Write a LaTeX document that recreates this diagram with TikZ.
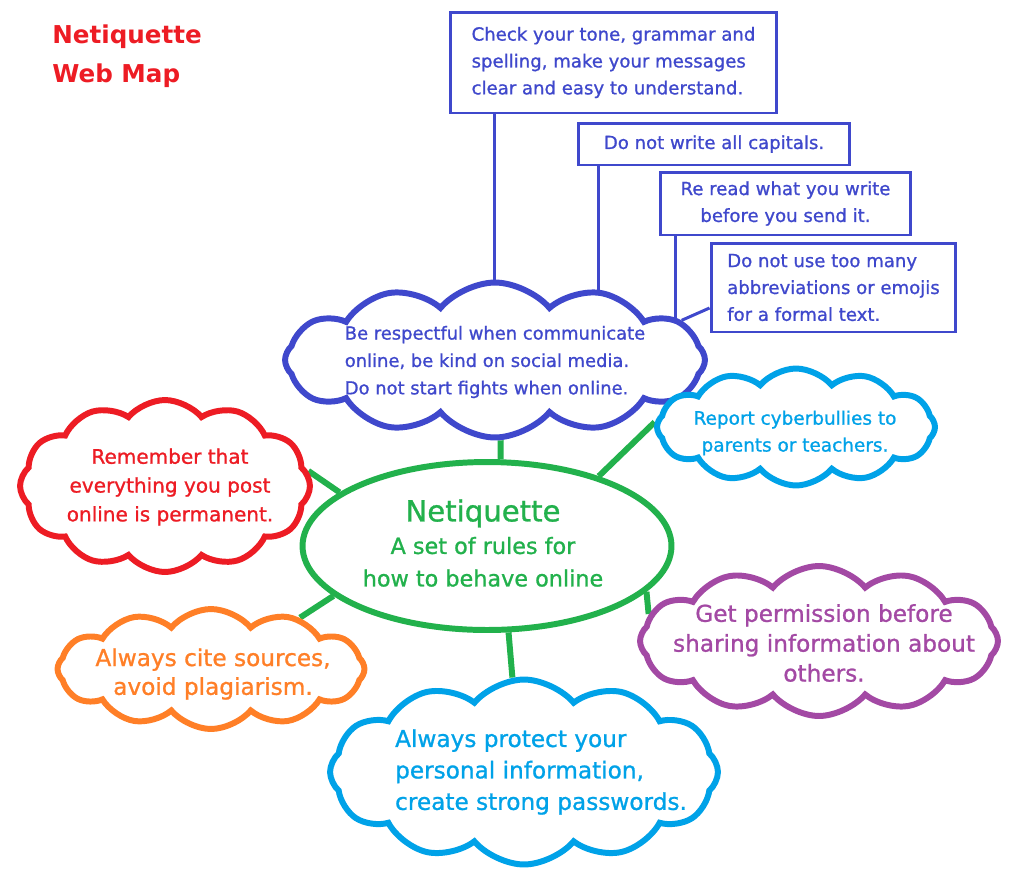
\documentclass[tikz,border=0pt]{standalone}
\usepackage{fontspec}
\setmainfont{DejaVu Sans}
\newfontfamily\handfont{DejaVu Sans}[FakeBold=1]
\usetikzlibrary{shapes.symbols,shapes.geometric,positioning,backgrounds}

\definecolor{mapred}{HTML}{ED1C24}
\definecolor{mapblue}{HTML}{3F48CC}
\definecolor{mapgreen}{HTML}{22B14C}
\definecolor{mapsky}{HTML}{00A2E8}
\definecolor{maporange}{HTML}{FF7F27}
\definecolor{mappurple}{HTML}{A349A4}

\newcommand{\hand}[2]{\handfont\fontsize{#1}{#2}\selectfont}

\tikzset{
    bubble/.style={cloud, cloud puffs=12, cloud puff arc=100, cloud ignores aspect,
        draw=#1, fill=white, line width=3.4pt, inner sep=0pt},
    words/.style={text=#1, align=center, inner sep=0pt},
    tipbox/.style={draw=mapblue, text=mapblue, fill=white, line width=1.7pt,
        align=left, inner sep=0pt, font=\hand{10.3}{15.3}},
    spoke/.style={draw=mapgreen, line width=3.4pt},
    stem/.style={draw=mapblue, line width=1.7pt},
}

\begin{document}
\begin{tikzpicture}[x=0.02cm, y=-0.02cm]
    \useasboundingbox (0,0) rectangle (1030,883);

    % Title
    \node[anchor=west, inner sep=0pt, text=mapred, align=left, font=\bfseries\fontsize{14}{22}\selectfont] (title) at (52,56) {Netiquette\\Web Map};

    % Tips in boxes
    \node[tipbox, minimum width=6.54cm, minimum height=2.02cm] (tone) at (613.5,62.5)
        {Check your tone, grammar and\\spelling, make your messages\\clear and easy to understand.};
    \node[tipbox, minimum width=5.44cm, minimum height=0.84cm] (caps) at (714,144)
        {Do not write all capitals.};
    \node[tipbox, align=center, minimum width=5.02cm, minimum height=1.26cm] (reread) at (785.5,203.5)
        {Re read what you write\\before you send it.};
    \node[tipbox, minimum width=4.9cm, minimum height=1.78cm] (abbrev) at (833.5,287.5)
        {Do not use too many\\abbreviations or emojis\\for a formal text.};

    % Centre
    \node[ellipse, draw=mapgreen, line width=3.4pt, fill=white,
        minimum width=7.38cm, minimum height=3.36cm, inner sep=0pt] (net) at (487,546) {};
    \node[words=mapgreen, font=\hand{12.7}{18.5}] (net-text) at (483,543)
        {{\hand{16.6}{20}Netiquette}\\A set of rules for\\how to behave online};

    % Clouds
    \node[bubble=mapblue, minimum width=8.4cm, minimum height=3.1cm] (respect) at (495,360) {};
    \node[words=mapblue, align=left, font=\hand{10.2}{15.6}] (respect-text) at (495,362)
        {Be respectful when communicate\\online, be kind on social media.\\Do not start fights when online.};

    \node[bubble=mapred, minimum width=5.8cm, minimum height=3.44cm] (forever) at (165,486) {};
    \node[words=mapred, font=\hand{11.4}{16.4}] (forever-text) at (170,487)
        {Remember that\\everything you post\\online is permanent.};

    \node[bubble=mapsky, minimum width=5.56cm, minimum height=2.34cm] (bully) at (796,427) {};
    \node[words=mapsky, font=\hand{10.5}{15.3}] (bully-text) at (795,433)
        {Report cyberbullies to\\parents or teachers.};

    \node[bubble=maporange, minimum width=6.14cm, minimum height=2.4cm] (cite) at (211,669) {};
    \node[words=maporange, font=\hand{13.2}{16.4}] (cite-text) at (213,674)
        {Always cite sources,\\avoid plagiarism.};

    \node[bubble=mappurple, minimum width=7.16cm, minimum height=3.0cm] (permit) at (819,641) {};
    \node[words=mappurple, font=\hand{13.2}{17}] (permit-text) at (824,643)
        {Get permission before\\sharing information about\\others.};

    \node[bubble=mapsky, minimum width=7.76cm, minimum height=3.7cm] (protect) at (524,772) {};
    \node[words=mapsky, align=left, font=\hand{13.2}{17.9}] (protect-text) at (541,772)
        {Always protect your\\personal information,\\create strong passwords.};

    % Connectors behind the shapes
    \begin{scope}[on background layer]
        \draw[stem] ([xshift=-2.39cm]tone.south) -- ([xshift=-2.39cm]tone.south |- respect.center);
        \draw[stem] ([xshift=-2.32cm]caps.south) -- ([xshift=-2.32cm]caps.south |- respect.center);
        \draw[stem] ([xshift=-2.21cm]reread.south) -- ([xshift=-2.21cm]reread.south |- respect.center);
        \draw[stem] ([yshift=-0.41cm]abbrev.west) -- (respect.12);

        \draw[spoke] (net.81) -- (respect.-86);
        \draw[spoke] (net.160) -- (forever.6);
        \draw[spoke] (net.32) -- (bully.178);
        \draw[spoke] (net.198) -- (cite.30);
        \draw[spoke] (net.-16) -- (permit.171);
        \draw[spoke] (net.-76) -- (protect.97);
    \end{scope}
\end{tikzpicture}
\end{document}
